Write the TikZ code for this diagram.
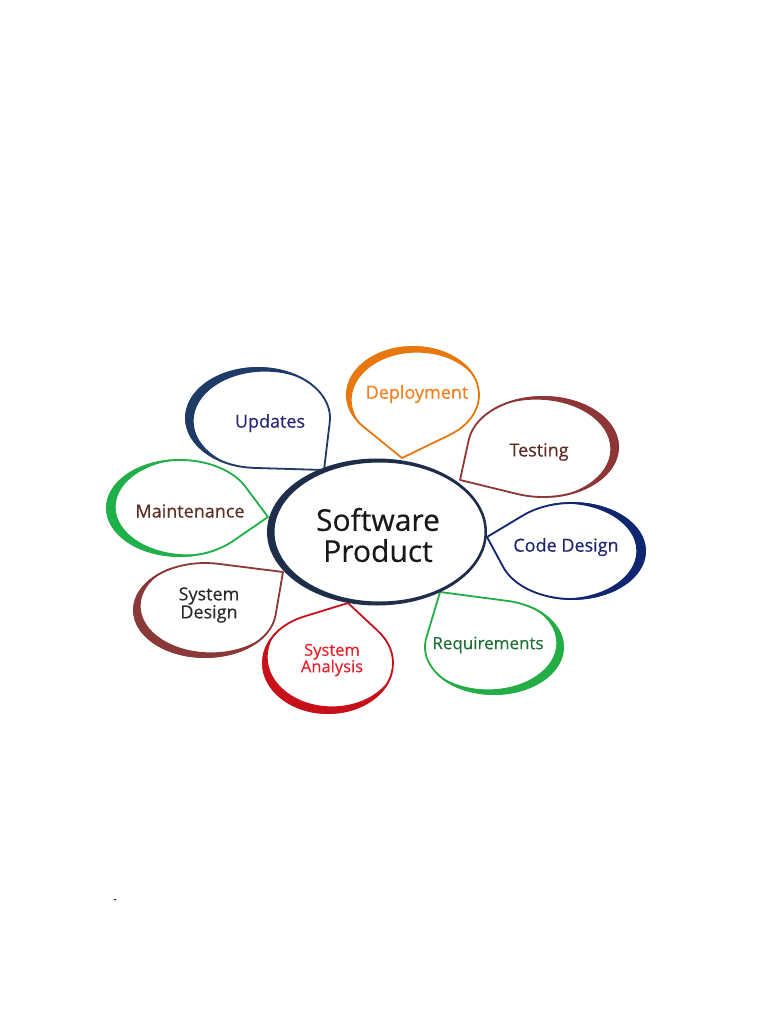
\documentclass[tikz,border=0pt]{standalone}
\usepackage{fontspec}
\setmainfont[FakeBold=0.35]{Open Sans}
\usepackage{tikz}
\usetikzlibrary{shapes.geometric}

\definecolor{hubnavy}{HTML}{1E2D4A}
\definecolor{updring}{HTML}{1D3B66}
\definecolor{depring}{HTML}{E8780E}
\definecolor{tstring}{HTML}{8E3535}
\definecolor{codring}{HTML}{0F2670}
\definecolor{reqring}{HTML}{22AD45}
\definecolor{anaring}{HTML}{C8101A}
\definecolor{sysring}{HTML}{8A3838}
\definecolor{mntring}{HTML}{20B04A}
\definecolor{updtext}{HTML}{262673}
\definecolor{deptext}{HTML}{F07F1E}
\definecolor{tsttext}{HTML}{5C2A1E}
\definecolor{codtext}{HTML}{1D2570}
\definecolor{reqtext}{HTML}{1F6E35}
\definecolor{anatext}{HTML}{E8202A}
\definecolor{systext}{HTML}{2A2A2A}
\definecolor{mnttext}{HTML}{5A2E20}

\tikzset{
  petaltext/.style={font=\fontsize{18}{18}\selectfont, align=center, inner sep=0},
  hubtext/.style={font=\fontsize{30}{31}\selectfont, align=center, text=black!90, inner sep=0}
}

\begin{document}
\begin{tikzpicture}[x=1pt, y=1pt, yscale=-1]
\fill[white] (0,0) rectangle (768,1024);
\useasboundingbox (0,0) rectangle (768,1024);

% petals: bulb centre, radii, tip, inner shift, colour
\foreach \cx/\cy/\rx/\ry/\tx/\ty/\sx/\sy/\col in {
  258/418/72/50/324/470/7/3/updring,
  413/395/66/48/402/458/4/5/depring,
  543/447/75/50/460/480/-7/2/tstring,
  572/551/73/48/487/537/-8/0/codring,
  494/647/69/47/440/592/-6/-4/reqring,
  328/663/65/50/348/603/4/-6/anaring,
  205/610/71/47/283/572/6/-4/sysring,
  180/508/73/48/268/517/8/-1/mntring}
{
  \pgfmathsetmacro{\ux}{(\tx-\cx)/\rx}
  \pgfmathsetmacro{\uy}{(\ty-\cy)/\ry}
  \pgfmathsetmacro{\dist}{sqrt(\ux*\ux+\uy*\uy)}
  \pgfmathsetmacro{\ang}{atan2(\uy,\ux)}
  \pgfmathsetmacro{\al}{acos(1/\dist)}
  \pgfmathsetmacro{\aa}{\ang+\al}
  \pgfmathsetmacro{\ab}{\ang-\al+360}
  \pgfmathsetmacro{\px}{\cx+\rx*cos(\aa)}
  \pgfmathsetmacro{\py}{\cy+\ry*sin(\aa)}
  \draw[\col, line width=1.8, fill=white, line join=round]
    (\tx,\ty) -- (\px,\py)
    arc[start angle=\aa, end angle=\ab, x radius=\rx, y radius=\ry] -- cycle;
  \begin{scope}
    \clip (\cx,\cy) ellipse [x radius=\rx+0.9, y radius=\ry+0.9];
    \fill[\col, even odd rule] (\cx,\cy) ellipse [x radius=\rx+5, y radius=\ry+5]
      (\cx+\sx,\cy+\sy) ellipse [x radius=\rx-0.6, y radius=\ry-0.6];
  \end{scope}
}

% hub
\fill[white] (377,532) ellipse [x radius=106, y radius=70];
\node[hubtext] (hub) at (378,535) {Software\\Product};
\fill[hubnavy, even odd rule] (377,532) ellipse [x radius=110, y radius=73.5]
  (379.5,532) ellipse [x radius=105, y radius=69.5];

% labels
\node[petaltext, text=updtext] (updates) at (270,423) {Updates};
\node[petaltext, text=deptext] (deploy) at (417,394) {Deployment};
\node[petaltext, text=tsttext] (testing) at (539,452) {Testing};
\node[petaltext, text=codtext] (codedesign) at (566,547) {Code Design};
\node[petaltext, text=reqtext, font=\fontsize{17}{17}\selectfont] (reqs) at (488,645) {Requirements};
\node[petaltext, text=anatext, font=\fontsize{16.5}{16.5}\selectfont] (analysis) at (332,660) {System\\Analysis};
\node[petaltext, text=systext] (sysdesign) at (209,605) {System\\Design};
\node[petaltext, text=mnttext] (maint) at (190,511) {Maintenance};

\node[font=\fontsize{10}{10}\selectfont, inner sep=0] (dash) at (115,901) {-};
\end{tikzpicture}
\end{document}
